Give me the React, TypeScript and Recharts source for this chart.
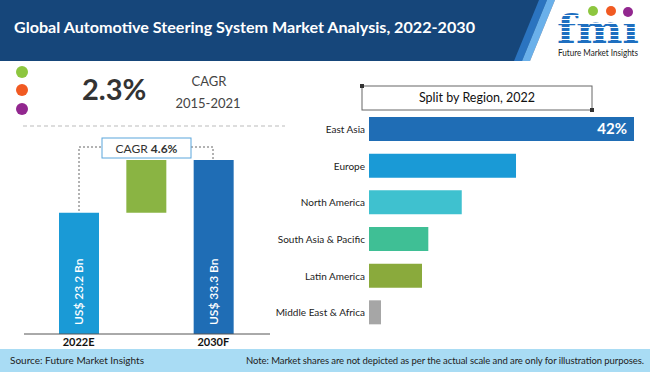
import React from 'react';
import { BarChart, Bar, XAxis, YAxis, Cell, LabelList } from 'recharts';

// market size, US$ Bn
const years = ['2022E', '2030F'];
const marketSize = [23.2, 33.3];
const sizeColors = ['#1a9ad6', '#8ab443', '#1f6db5'];

// regional split, 2022 (%)
const regions = ['East Asia', 'Europe', 'North America', 'South Asia & Pacific', 'Latin America', 'Middle East & Africa'];
const shares = [42, 23.3, 14.7, 9.4, 8.4, 1.9];
const regionColors = ['#1f6db5', '#1a9ad6', '#3fc1cf', '#3fbf95', '#8aaa3c', '#a6a6a6'];

const FONT = 'Lato, "Open Sans", sans-serif';

const sizeData = [
  { name: years[0], base: 0, value: marketSize[0], label: `US$ ${marketSize[0]} Bn` },
  { name: 'growth', base: marketSize[0], value: +(marketSize[1] - marketSize[0]).toFixed(1), label: '' },
  { name: years[1], base: 0, value: marketSize[1], label: `US$ ${marketSize[1]} Bn` },
];

const regionData = regions.map((r, i) => ({
  region: r,
  share: shares[i],
  shareLabel: i === 0 ? `${shares[i]}%` : '',
}));

const VerticalLabel = (props: any) => {
  const { x, y, width, height, value } = props;
  if (!value) return null;
  const cx = Number(x) + Number(width) / 2 + 4;
  const by = Number(y) + Number(height) - 9;
  return (
    <text
      transform={`translate(${cx}, ${by}) rotate(-90)`}
      fill="#fff"
      fontSize={12}
      fontWeight={600}
      fontFamily={FONT}
      textAnchor="start"
    >
      {value}
    </text>
  );
};

const RegionTick = (props: any) => {
  const { x, y, payload } = props;
  return (
    <text x={x} y={y} dy={3.5} textAnchor="end" fontSize={10} fill="#222" fontFamily={FONT}>
      {payload.value}
    </text>
  );
};

export default function App() {
  return (
    <div style={{ position: 'fixed', left: 0, top: 0, width: 650, height: 372, background: '#fff', overflow: 'hidden', fontFamily: FONT }}>
      <div style={{ position: 'absolute', left: 0, top: 0 }}>
        <BarChart width={290} height={372} data={sizeData} margin={{ top: 160, right: 20, bottom: 8, left: 24 }}>
          <XAxis
            dataKey="name"
            padding={{ left: 21, right: 23 }}
            axisLine={{ stroke: '#555' }}
            tickLine={false}
            tickSize={0}
            tickMargin={4}
            height={30}
            interval={0}
            tickFormatter={(v: string) => (v === 'growth' ? '' : v)}
            tick={{ fontSize: 11, fontWeight: 700, fill: '#111', fontFamily: FONT }}
          />
          <YAxis hide domain={[0, 33.3]} />
          <Bar dataKey="base" stackId="a" fill="transparent" barSize={40} isAnimationActive={false} />
          <Bar dataKey="value" stackId="a" barSize={40} isAnimationActive={false}>
            {sizeData.map((d, i) => (
              <Cell key={d.name} fill={sizeColors[i]} />
            ))}
            <LabelList dataKey="label" content={VerticalLabel} />
          </Bar>
        </BarChart>
      </div>

      <div style={{ position: 'absolute', left: 270, top: 0 }}>
        <BarChart layout="vertical" width={380} height={372} data={regionData} margin={{ top: 111, right: 16, bottom: 41, left: 0 }}>
          <XAxis type="number" hide domain={[0, 42]} />
          <YAxis
            type="category"
            dataKey="region"
            width={99}
            tickLine={false}
            axisLine={false}
            tickSize={0}
            tickMargin={4}
            interval={0}
            tick={RegionTick}
          />
          <Bar dataKey="share" barSize={24} isAnimationActive={false}>
            {regionData.map((d, i) => (
              <Cell key={d.region} fill={regionColors[i]} />
            ))}
            <LabelList dataKey="shareLabel" position="insideRight" offset={7} fill="#fff" fontSize={15} fontWeight={700} fontFamily={FONT} />
          </Bar>
        </BarChart>
      </div>

      <svg width={650} height={372} style={{ position: 'absolute', left: 0, top: 0, pointerEvents: 'none' }} fontFamily={FONT}>
        {/* header */}
        <rect x={0} y={0} width={650} height={61} fill="#16467a" />
        <polygon points="539,0 547,0 522,61 514,61" fill="#2b74c0" />
        <polygon points="547,0 555,0 530,61 522,61" fill="#6ab0ea" />
        <polygon points="555,0 650,0 650,61 530,61" fill="#fff" />
        <text x={14} y={33} fill="#fff" fontSize={15} fontWeight={700} textLength={461} lengthAdjust="spacingAndGlyphs">
          Global Automotive Steering System Market Analysis, 2022-2030
        </text>

        {/* logo */}
        <text x={557} y={43} fill="#1e6fc0" fontSize={40} fontWeight={700} fontFamily="DejaVu Serif" textLength={82} lengthAdjust="spacingAndGlyphs">
          fmı
        </text>
        {[15, 19, 23, 27, 31, 35, 39].map((y) => (
          <rect key={y} x={555} y={y} width={88} height={1} fill="#fff" />
        ))}
        <circle cx={593} cy={11} r={5} fill="#8dc63f" />
        <circle cx={611} cy={11} r={5} fill="#f15a22" />
        <circle cx={628} cy={12} r={5} fill="#92278f" />
        <text x={598} y={56} fontSize={8.5} fill="#222" textAnchor="middle" textLength={80} lengthAdjust="spacingAndGlyphs">
          Future Market Insights
        </text>

        {/* CAGR history */}
        <circle cx={22} cy={72} r={6} fill="#8dc63f" />
        <circle cx={22} cy={90} r={6} fill="#f15a22" />
        <circle cx={22} cy={109} r={6} fill="#92278f" />
        <text x={82} y={100} fontSize={29} fontWeight={700} fill="#333">2.3%</text>
        <text x={209} y={86} fontSize={13} fill="#444" textAnchor="middle">CAGR</text>
        <text x={208} y={108} fontSize={13} fill="#444" textAnchor="middle">2015-2021</text>
        <line x1={23} y1={126} x2={285} y2={126} stroke="#bbb" strokeDasharray="4 3" />

        {/* CAGR bracket */}
        <path d="M79,211 L79,147 L102,147" fill="none" stroke="#666" strokeDasharray="2 2" />
        <path d="M191,147 L213,147 L213,161" fill="none" stroke="#666" strokeDasharray="2 2" />
        <rect x={102} y={138} width={89} height={20} fill="#fff" stroke="#5aa6dc" />
        <text x={146.5} y={152.5} fontSize={12} fill="#333" textAnchor="middle">
          CAGR <tspan fontWeight={700}>4.6%</tspan>
        </text>

        {/* region title box */}
        <rect x={362} y={86} width={230} height={24} fill="#fff" stroke="#666" />
        <rect x={360} y={84} width={4} height={4} fill="#333" />
        <rect x={590} y={108} width={4} height={4} fill="#333" />
        <text x={477} y={102} fontSize={12.5} fill="#111" textAnchor="middle">Split by Region, 2022</text>

        {/* footer */}
        <rect x={0} y={349} width={650} height={23} fill="#a9dcf4" />
        <text x={10} y={364} fontSize={10} fill="#222">Source: Future Market Insights</text>
        <text x={246} y={364} fontSize={9.5} fill="#222" textLength={398}>
          Note: Market shares are not depicted as per the actual scale and are only for illustration purposes.
        </text>
      </svg>
    </div>
  );
}
